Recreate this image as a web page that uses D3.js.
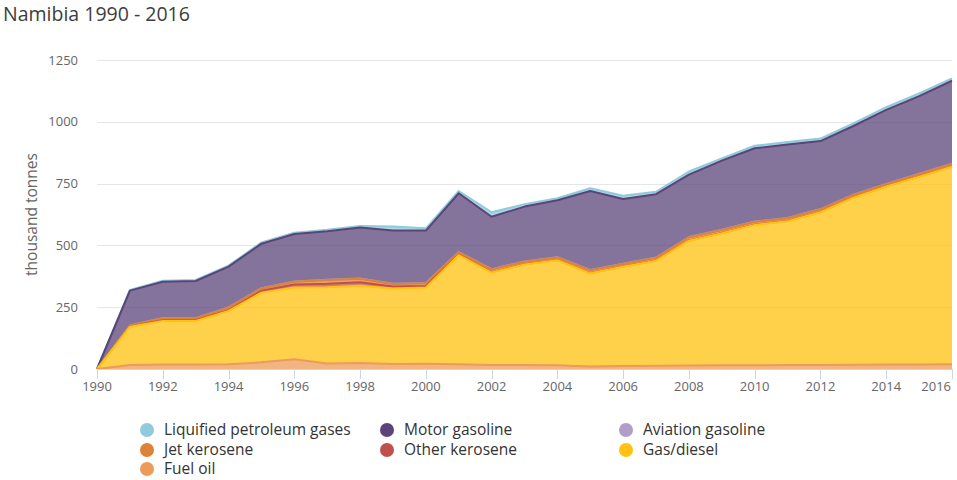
<!DOCTYPE html>
<html>
<head>
<meta charset="utf-8">
<script src="https://cdn.jsdelivr.net/npm/d3@7"></script>
<style>
  html, body { margin: 0; padding: 0; background: #fff; }
  svg { display: block; font-family: "Open Sans", sans-serif; }
</style>
</head>
<body>
<svg id="chart" width="957" height="480"></svg>
<script>
const years = d3.range(1990, 2017);
const seriesNames = ["Liquified petroleum gases", "Motor gasoline", "Aviation gasoline", "Jet kerosene", "Other kerosene", "Gas/diesel", "Fuel oil"];
const seriesColors = ["#8fcbdc", "#5b4478", "#b09dc9", "#dd8236", "#c0504d", "#ffc20e", "#ec9b5a"];

const lpg =        [0, 3, 4, 4, 4, 5, 5, 6, 6, 16, 9, 9, 18, 10, 8, 11, 13, 10, 13, 9, 10, 10, 10, 11, 11, 11, 10];
const motorGas =   [0, 141, 147, 150, 165, 180, 192, 196, 206, 215, 212, 238, 212, 222, 231, 319, 262, 256, 252, 280, 296, 297, 275, 278, 299, 314, 336];
const aviationGas =[0, 1, 1, 1, 1, 1, 1, 1, 1, 1, 1, 1, 1, 1, 1, 1, 1, 1, 1, 1, 1, 1, 1, 1, 1, 1, 1];
const jetKero =    [0, 3, 8, 8, 10, 9, 11, 15, 14, 10, 11, 9, 11, 10, 10, 12, 10, 11, 13, 12, 12, 11, 11, 10, 9, 10, 10];
const otherKero =  [0, 1, 3, 3, 3, 8, 12, 14, 14, 8, 6, 2, 2, 1, 1, 1, 1, 1, 1, 1, 1, 1, 1, 1, 1, 1, 1];
const gasDiesel =  [0, 155, 176, 176, 216, 282, 291, 309, 313, 306, 309, 442, 374, 407, 425, 377, 402, 425, 505, 534, 568, 582, 618, 676, 720, 760, 799];
const fuelOil =    [0, 16, 18, 18, 19, 27, 39, 22, 24, 20, 21, 19, 16, 16, 15, 10, 12, 13, 14, 15, 15, 16, 16, 17, 18, 18, 19];

const yTicks = [0, 250, 500, 750, 1000, 1250];
const xTicks = d3.range(1990, 2017, 2);

const seriesValues = [lpg, motorGas, aviationGas, jetKero, otherKero, gasDiesel, fuelOil];
const table = years.map((yr, i) => {
  const row = { year: yr };
  seriesNames.forEach((n, k) => row[n] = seriesValues[k][i]);
  return row;
});

const svg = d3.select("#chart");
const pLeft = 97, pRight = 952, pTop = 60, pBottom = 369;

const x = d3.scaleLinear().domain([1990, 2016]).range([pLeft, pRight]);
const y = d3.scaleLinear().domain([0, 1250]).range([pBottom, pTop]);

// stack: last series (Fuel oil) at bottom
const stack = d3.stack().keys(seriesNames.slice().reverse());
const stacked = stack(table);

// title
svg.append("text").attr("x", 3).attr("y", 20.5)
  .attr("font-size", 19.5).attr("fill", "#3d3d3d").text("Namibia 1990 - 2016");

// gridlines
svg.append("g").selectAll("line").data(yTicks).join("line")
  .attr("x1", pLeft).attr("x2", pRight)
  .attr("y1", d => Math.round(y(d)) + 0.5).attr("y2", d => Math.round(y(d)) + 0.5)
  .attr("stroke", "#e6e6e6").attr("stroke-width", 1);

// y labels
svg.append("g").selectAll("text").data(yTicks).join("text")
  .attr("x", 78).attr("y", d => y(d) + 4.5)
  .attr("text-anchor", "end").attr("font-size", 13).attr("fill", "#666")
  .text(d => d);

svg.append("text")
  .attr("transform", `translate(37,${(pTop + pBottom) / 2}) rotate(-90)`)
  .attr("text-anchor", "middle").attr("font-size", 15.5).attr("fill", "#666")
  .text("thousand tonnes");

const area = d3.area().x(d => x(d.data.year)).y0(d => y(d[0])).y1(d => y(d[1]));
const line = d3.line().x(d => x(d.data.year)).y(d => y(d[1]));

// draw in legend order (LPG first, Fuel oil last on top)
const gArea = svg.append("g");
seriesNames.forEach((name, k) => {
  const s = stacked.find(l => l.key === name);
  const g = gArea.append("g");
  g.append("path").attr("d", area(s)).attr("fill", seriesColors[k]).attr("fill-opacity", 0.75);
  g.append("path").attr("d", line(s)).attr("fill", "none").attr("stroke", seriesColors[k])
    .attr("stroke-width", 2).attr("stroke-linejoin", "round");
});

// x axis
svg.append("line").attr("x1", pLeft).attr("x2", pRight)
  .attr("y1", pBottom + 0.5).attr("y2", pBottom + 0.5).attr("stroke", "#ccd6eb");
svg.append("g").selectAll("line").data(xTicks).join("line")
  .attr("x1", d => Math.round(x(d)) + 0.5).attr("x2", d => Math.round(x(d)) + 0.5)
  .attr("y1", pBottom).attr("y2", pBottom + 10).attr("stroke", "#ccd6eb");
svg.append("g").selectAll("text").data(xTicks).join("text")
  .attr("x", d => d === 2016 ? pRight - 1 : x(d))
  .attr("y", 391)
  .attr("text-anchor", d => d === 2016 ? "end" : "middle")
  .attr("font-size", 13).attr("fill", "#666")
  .text(d => d);

// legend
const legCols = [147, 387, 626];
const legRows = [430, 450, 469];
const leg = svg.append("g");
seriesNames.forEach((name, k) => {
  const cx = legCols[k % 3], cy = legRows[Math.floor(k / 3)];
  leg.append("circle").attr("cx", cx).attr("cy", cy).attr("r", 7).attr("fill", seriesColors[k]);
  leg.append("text").attr("x", cx + 17).attr("y", cy + 5)
    .attr("font-size", 15.5).attr("fill", "#333").text(name);
});
</script>
</body>
</html>
